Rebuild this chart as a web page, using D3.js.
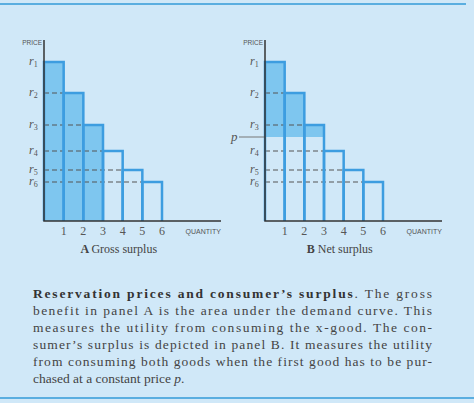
<!DOCTYPE html>
<html><head><meta charset="utf-8">
<script src="https://cdn.jsdelivr.net/npm/d3@7"></script>
<style>body{margin:0;background:#fff}</style>
</head><body><div id="vis"></div>
<script>
const width = 474, height = 403;

// reservation prices r1..r6 (price units) and the market price p
const quantities = [1, 2, 3, 4, 5, 6];
const reservation = [159, 128, 96, 70, 51, 39];
const priceLabels = ["r1", "r2", "r3", "r4", "r5", "r6"];
const marketPrice = 84;
const captionLines = [
  "benefit in panel A is the area under the demand curve. This",
  "measures the utility from consuming the x-good. The con-",
  "sumer’s surplus is depicted in panel B. It measures the utility",
  "from consuming both goods when the first good has to be pur-"
];

var svg = d3.select("#vis").append("svg")
    .attr("width", width).attr("height", height);

svg.append("rect").attr("width", width).attr("height", height).attr("fill", "#d0e8f8");
svg.append("line").attr("x1", 0).attr("x2", 466).attr("y1", 4).attr("y2", 4)
    .attr("stroke", "#5aaee0").attr("stroke-width", 2);
svg.append("line").attr("x1", 0).attr("x2", 474).attr("y1", 398).attr("y2", 398)
    .attr("stroke", "#5aaee0").attr("stroke-width", 2);

var y = d3.scaleLinear().domain([0, 181]).range([221, 40]);

function panel(x0, title, letter, net) {
  var x = d3.scaleLinear().domain([0, 9]).range([x0, x0 + 177]);
  var g = svg.append("g");
  var w = x(1) - x(0);

  // fills
  quantities.forEach(function(q, i) {
    if (!net && i < 3) {
      g.append("rect").attr("x", x(q - 1)).attr("y", y(reservation[i]))
        .attr("width", w).attr("height", y(0) - y(reservation[i])).attr("fill", "#7ec6ef");
    }
    if (net && reservation[i] > marketPrice) {
      g.append("rect").attr("x", x(q - 1)).attr("y", y(reservation[i]))
        .attr("width", w).attr("height", y(marketPrice) - y(reservation[i])).attr("fill", "#7ec6ef");
    }
  });

  // dashed level lines
  quantities.forEach(function(q, i) {
    if (i == 0) return;
    g.append("line").attr("x1", x(0)).attr("x2", x(q - 1))
      .attr("y1", y(reservation[i])).attr("y2", y(reservation[i]))
      .attr("stroke", "#555").attr("stroke-width", 1).attr("stroke-dasharray", "5,3");
  });

  // bar outlines
  quantities.forEach(function(q, i) {
    g.append("path")
      .attr("d", "M" + x(q - 1) + "," + y(0) + "V" + y(reservation[i]) + "H" + x(q) + "V" + y(0))
      .attr("fill", "none").attr("stroke", "#3d9de0").attr("stroke-width", 2.5);
  });

  if (net) {
    g.append("line").attr("x1", x(0) - 26).attr("x2", x(0))
      .attr("y1", y(marketPrice)).attr("y2", y(marketPrice))
      .attr("stroke", "#777").attr("stroke-width", 1);
    g.append("text").attr("x", x(0) - 34).attr("y", y(marketPrice) + 4)
      .attr("font-family", "Liberation Serif").attr("font-style", "italic")
      .attr("font-size", 13).attr("fill", "#555").text("p");
  }

  // axes
  g.append("path").attr("d", "M" + x(0) + "," + y(181) + "V" + y(0) + "H" + x(9))
    .attr("fill", "none").attr("stroke", "#333").attr("stroke-width", 1.5);

  g.selectAll(".tick").data(quantities).enter().append("text")
    .attr("x", d => x(d)).attr("y", y(0) + 14).attr("text-anchor", "middle")
    .attr("font-family", "Liberation Serif").attr("font-size", 12).attr("fill", "#555")
    .text(d => d);

  priceLabels.forEach(function(lab, i) {
    var t = g.append("text").attr("x", x(0) - 15).attr("y", y(reservation[i]) + 3)
      .attr("font-family", "Liberation Serif").attr("font-style", "italic")
      .attr("font-size", 12).attr("fill", "#555");
    t.append("tspan").text("r");
    t.append("tspan").attr("font-size", 8).attr("dy", 2).attr("font-style", "normal").text(lab.slice(1));
  });

  g.append("text").attr("x", x(0) - 2).attr("y", y(181) + 5).attr("text-anchor", "end")
    .attr("font-family", "Liberation Sans").attr("font-size", 6.5).attr("fill", "#555").text("PRICE");
  g.append("text").attr("x", x(9)).attr("y", y(0) + 13).attr("text-anchor", "end")
    .attr("font-family", "Liberation Sans").attr("font-size", 7).attr("fill", "#555").text("QUANTITY");

  var tt = g.append("text").attr("x", x(3.8)).attr("y", 253).attr("text-anchor", "middle")
    .attr("font-family", "Liberation Serif").attr("font-size", 12).attr("fill", "#444");
  tt.append("tspan").attr("font-weight", "bold").text(letter + " ");
  tt.append("tspan").text(" " + title);
}

panel(44, "Gross surplus", "A", false);
panel(265, "Net surplus", "B", true);

// caption
var cap = svg.append("g").attr("font-family", "Liberation Serif").attr("font-size", 13.5).attr("fill", "#444");
var first = cap.append("text").attr("x", 33).attr("y", 298)
  .attr("textLength", 399).attr("lengthAdjust", "spacing");
first.append("tspan").attr("font-weight", "bold").attr("fill", "#333").text("Reservation prices and consumer’s surplus");
first.append("tspan").text(".  The gross");
captionLines.forEach(function(l, i) {
  cap.append("text").attr("x", 33).attr("y", 315 + 17 * i)
    .attr("textLength", 399).attr("lengthAdjust", "spacing").text(l);
});
var last = cap.append("text").attr("x", 33).attr("y", 383);
last.append("tspan").text("chased at a constant price ");
last.append("tspan").attr("font-style", "italic").text("p");
last.append("tspan").text(".");
</script>
</body></html>
